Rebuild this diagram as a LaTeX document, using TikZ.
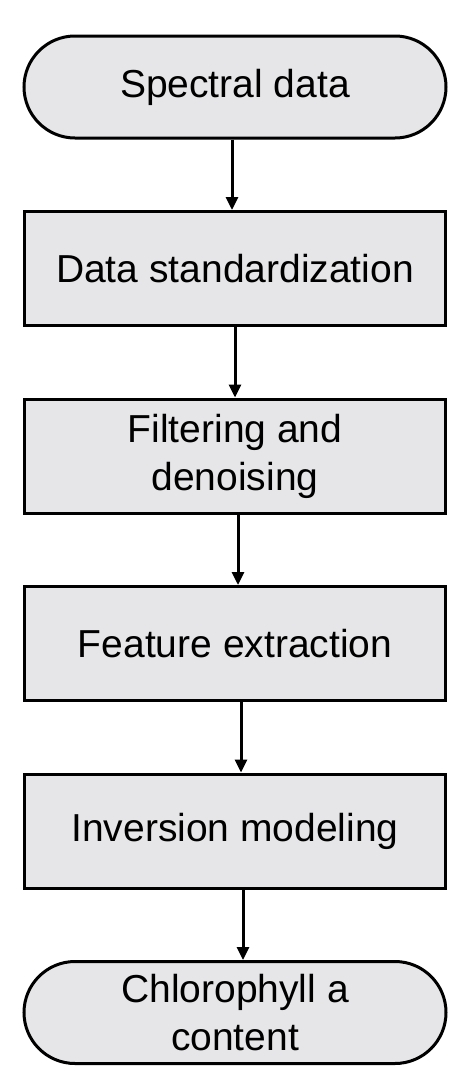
\documentclass[tikz,border=0pt]{standalone}
\usepackage{fontspec}
\setmainfont{Liberation Sans}
\usepackage{xcolor}
\usetikzlibrary{shapes.misc, arrows.meta, positioning}
\definecolor{boxgray}{RGB}{230,230,232}

\begin{document}
\begin{tikzpicture}[
	x=1pt, y=-1pt,
	node distance=70.5pt,
	every node/.style={draw, line width=3pt, fill=boxgray, text centered, align=center, inner sep=0pt, font=\fontsize{39}{48}\selectfont},
	terminal/.style={rounded rectangle, minimum width=422pt, minimum height=102pt},
	process/.style={rectangle, minimum width=421pt, minimum height=114pt},
	edge/.style={draw, line width=3pt, -{Triangle[length=13pt, width=12pt]}}
	]
	\useasboundingbox (0,0) rectangle (474,1087);
	
	% Define nodes
	\node (spectral) [terminal] at (235,87) {Spectral data};
	\node (standard) [process, below=of spectral] {Data standardization};
	\node (filter) [process, below=of standard] {Filtering and\\denoising};
	\node (feature) [process, below=of filter] {Feature extraction};
	\node (inversion) [process, below=of feature] {Inversion modeling};
	\node (chlorophyll) [terminal, below=of inversion] {Chlorophyll a\\content};
	
	% Draw edges
	\path [edge] ([xshift=-3pt]spectral.south) -- ([xshift=-3pt]standard.north);
	\path [edge] (standard.south) -- (filter.north);
	\path [edge] ([xshift=3pt]filter.south) -- ([xshift=3pt]feature.north);
	\path [edge] ([xshift=6pt]feature.south) -- ([xshift=6pt]inversion.north);
	\path [edge] ([xshift=8pt]inversion.south) -- ([xshift=8pt]chlorophyll.north);
	
\end{tikzpicture}
\end{document}
